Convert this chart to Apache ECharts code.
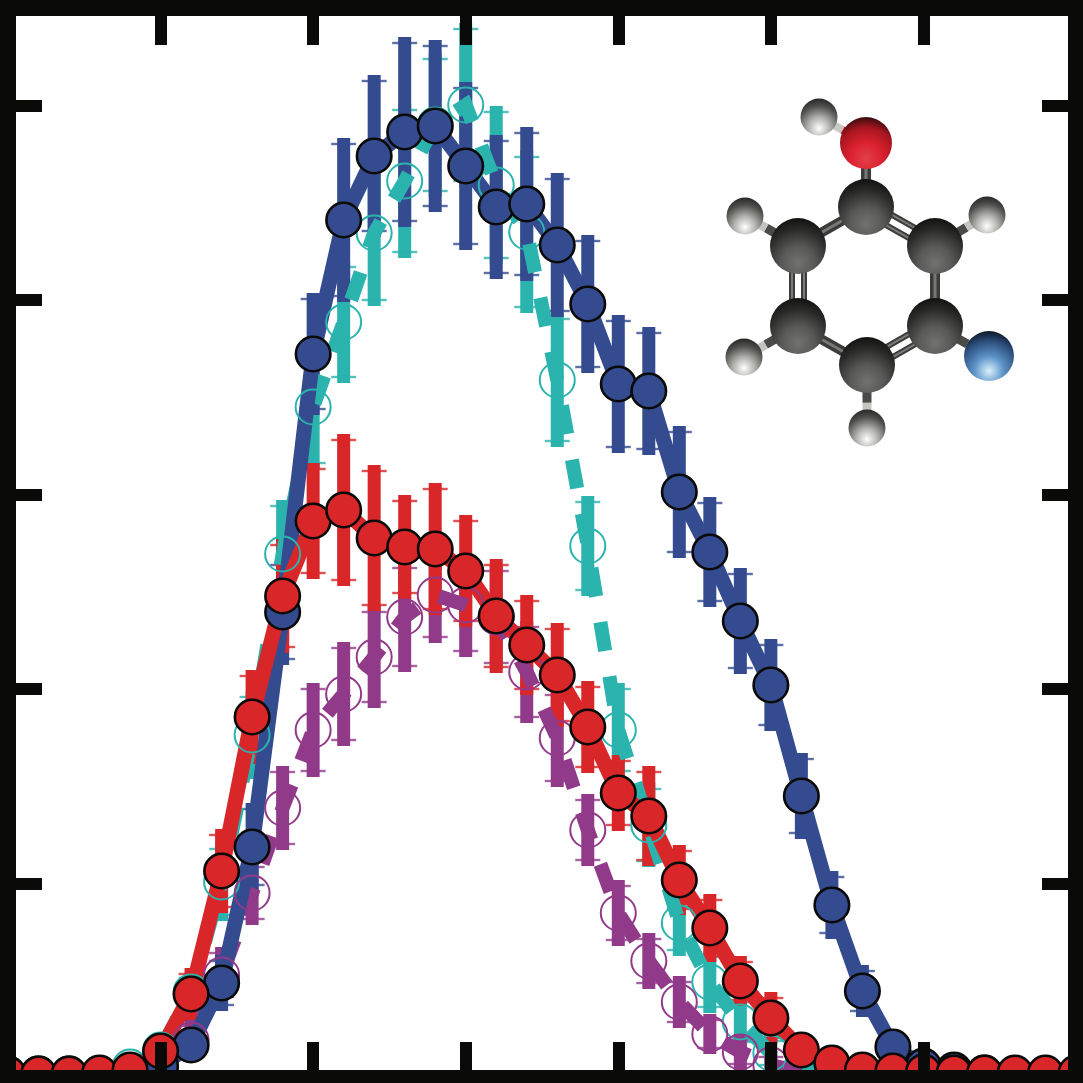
<!DOCTYPE html>
<html><head><meta charset="utf-8">
<style>html,body{margin:0;padding:0;background:#fff}#c{width:1083px;height:1083px}</style>
<script src="https://cdn.jsdelivr.net/npm/echarts@6/dist/echarts.min.js"></script>
</head><body><div id="c"></div>
<script>
const xIndex = Array.from({length:36},(_,i)=>i);
const tealVals = [4,4,4,4,11,28,86,196,343,524,671,756,845,897,953,973,893,846,698,532,348,253,155,96,56,25,10,5,3,3,3,3,3,3,3,3];
const tealErr  = [0,0,0,0,2,5,14,33,38,48,56,55,67,71,66,76,73,75,61,44,41,36,27,25,20,12,5,2,0,0,0,0,0,0,0,0];
const purpleVals = [3,3,3,3,4,10,38,103,185,270,348,384,421,461,483,473,461,406,340,248,165,117,76,44,26,13,6,3,3,3,3,3,3,3,3,3];
const purpleErr  = [0,0,0,0,1,5,14,22,26,36,41,46,45,49,42,46,46,45,43,30,27,22,20,14,12,8,3,1,0,0,0,0,0,0,0,0];
const blueVals = [4,4,4,4,6,12,33,95,231,466,724,858,922,946,952,912,871,874,833,774,694,687,586,526,457,393,282,173,87,31,12,8,5,4,4,4];
const blueErr  = [0,0,0,0,1,5,10,22,38,47,55,76,75,89,80,78,66,71,66,63,63,58,60,49,47,40,37,28,20,8,4,2,1,0,0,0];
const redVals = [4,4,4,5,8,27,84,207,361,482,557,568,540,531,529,507,462,433,403,351,285,262,198,150,97,60,28,15,8,7,6,5,5,5,5,5];
const redErr  = [0,0,0,1,2,10,20,36,41,51,52,70,67,46,60,50,51,44,46,40,32,44,29,28,19,20,8,4,2,1,0,0,0,0,0,0];

// inset molecule (inset coordinates)
const atomX = [119,166,166,235,235,167,98,98,45,44,287,289,167];
const atomY = [37,63,127,166,246,285,246,166,136,277,135,276,348];
const atomKind = ['H','O','C','C','C','C','C','C','H','H','H','F','H'];
const bondFrom = [0,1,2,3,4,5,6,7,7,6,3,4,5];
const bondTo   = [1,2,3,4,5,6,7,2,8,9,10,11,12];
const bondOrder= [1,1,2,1,2,1,2,1,1,1,1,1,1];

const C = {teal:'#2bb3ae',purple:'#923a8a',blue:'#354b90',red:'#d92629',black:'#0a0a08'};
const shade = {
  C:{size:56,stops:['#72726f','#585856','#2a2a28','#0c0c0a']},
  H:{size:37,stops:['#ffffff','#b0b0ac','#50504e','#1e1e1c']},
  O:{size:52,stops:['#e2404a','#dc2230','#a8161f','#1e0a0a']},
  F:{size:50,stops:['#d8f2fc','#5c92c8','#2c4f7c','#060a12']}
};
function atomColor(kind){
  const s=shade[kind].stops;
  return {type:'radial',x:0.5,y:0.8,r:0.85,colorStops:[
    {offset:0,color:s[0]},{offset:0.35,color:s[1]},{offset:0.7,color:s[2]},{offset:1,color:s[3]}]};
}

function errSeries(vals,errs,color){
  return {type:'custom',xAxisIndex:0,yAxisIndex:0,clip:true,silent:true,
    data:xIndex.map(i=>[i,vals[i],errs[i]]),
    encode:{x:0,y:1},
    renderItem(p,api){
      const x=api.value(0),v=api.value(1),e=api.value(2);
      if(e<=0) return {type:'group',children:[]};
      const top=api.coord([x,v+e]),bot=api.coord([x,v-e]);
      const ext=e>=5?6:2;
      return {type:'group',children:[
        {type:'rect',shape:{x:top[0]-6.5,y:top[1]-ext,width:13,height:bot[1]-top[1]+2*ext},style:{fill:color}},
        {type:'rect',shape:{x:top[0]-12.5,y:top[1]-1.2,width:25,height:2.4},style:{fill:color,opacity:.8}},
        {type:'rect',shape:{x:top[0]-12.5,y:bot[1]-1.2,width:25,height:2.4},style:{fill:color,opacity:.8}}
      ]};
    }};
}
function lineSeries(vals,color,filled){
  return {type:'line',xAxisIndex:0,yAxisIndex:0,clip:true,silent:true,
    data:xIndex.map(i=>[i,vals[i]]),
    showSymbol:true,showAllSymbol:true,symbol:'circle',
    symbolSize:filled?34.5:35,
    lineStyle:{color:color,width:filled?15:14,type:filled?'solid':[29,26],cap:'butt',join:'miter'},
    itemStyle:filled?{color:color,borderColor:C.black,borderWidth:2.6}
                    :{color:'rgba(255,255,255,0)',borderColor:color,borderWidth:2,opacity:1}};
}
const series=[
  errSeries(tealVals,tealErr,C.teal),lineSeries(tealVals,C.teal,false),
  errSeries(purpleVals,purpleErr,C.purple),lineSeries(purpleVals,C.purple,false),
  errSeries(blueVals,blueErr,C.blue),lineSeries(blueVals,C.blue,true),
  errSeries(redVals,redErr,C.red),lineSeries(redVals,C.red,true),
  {type:'custom',xAxisIndex:2,yAxisIndex:2,silent:true,z:3,clip:false,
    data:bondFrom.map((f,i)=>[atomX[f],atomY[f],atomX[bondTo[i]],atomY[bondTo[i]],bondOrder[i],i]),
    encode:{x:0,y:1},
    renderItem(p,api){
      const a=api.coord([api.value(0),api.value(1)]),b=api.coord([api.value(2),api.value(3)]);
      const o=api.value(4),i=api.value(5);
      const dx=b[0]-a[0],dy=b[1]-a[1],L=Math.hypot(dx,dy),nx=-dy/L,ny=dx/L;
      const seg=(off,w,col,t0,t1)=>({type:'line',shape:{
          x1:a[0]+dx*(t0||0)+nx*off,y1:a[1]+dy*(t0||0)+ny*off,
          x2:a[0]+dx*(t1===undefined?1:t1)+nx*off,y2:a[1]+dy*(t1===undefined?1:t1)+ny*off},
          style:{stroke:col,lineWidth:w}});
      const kids=[];
      if(o===2){
        [-6,6].forEach(s=>{kids.push(seg(s,6,'#3c3c3a'));kids.push(seg(s,2,'#7a7a78'));});
      }else{
        const ka=atomKind[bondFrom[i]],kb=atomKind[bondTo[i]];
        if(ka==='H'&&kb==='O'){kids.push(seg(0,8,'#c8c8c4',0,.5));kids.push(seg(0,8,'#d92030',.5,1));}
        else if(kb==='H'){kids.push(seg(0,9,'#4a4a48',0,.6));kids.push(seg(0,9,'#c4c4c0',.6,1));}
        else if(kb==='F'){kids.push(seg(0,9,'#4a4a48',0,.6));kids.push(seg(0,9,'#7aa6d0',.6,1));}
        else{kids.push(seg(0,10,'#3c3c3a'));kids.push(seg(0,3,'#787876'));}
      }
      return {type:'group',children:kids};
    }},
  {type:'scatter',xAxisIndex:2,yAxisIndex:2,silent:true,z:4,clip:false,
    data:atomX.map((x,i)=>({value:[x,atomY[i]],symbolSize:shade[atomKind[i]].size,
      itemStyle:{color:atomColor(atomKind[i]),opacity:1}}))}
];
const hide={axisLabel:{show:false},splitLine:{show:false}};
const ax=(len)=>({...hide,z:10,axisLine:{show:true,onZero:false,lineStyle:{color:C.black,width:16,cap:'square'}},
  axisTick:{show:true,inside:true,length:len,lineStyle:{color:C.black,width:12}}});
const option={
  animation:false,backgroundColor:'#fff',
  grid:[{left:8,top:8,width:1068,height:1070,containLabel:false},
        {left:700,top:80,width:340,height:380}],
  xAxis:[
    {...ax(36),type:'value',position:'bottom',min:0,max:35,interval:5,gridIndex:0},
    {...ax(37),type:'value',position:'top',min:0,max:35,interval:5,gridIndex:0},
    {type:'value',gridIndex:1,min:0,max:340,show:false}
  ],
  yAxis:[
    {...ax(34),type:'value',position:'left',min:0,max:1070,interval:194.5,gridIndex:0},
    {...ax(34),type:'value',position:'right',min:0,max:1070,interval:194.5,gridIndex:0},
    {type:'value',gridIndex:1,min:0,max:380,inverse:true,show:false}
  ],
  series
};
echarts.init(document.getElementById('c'),null,{renderer:'canvas'}).setOption(option);
</script></body></html>
